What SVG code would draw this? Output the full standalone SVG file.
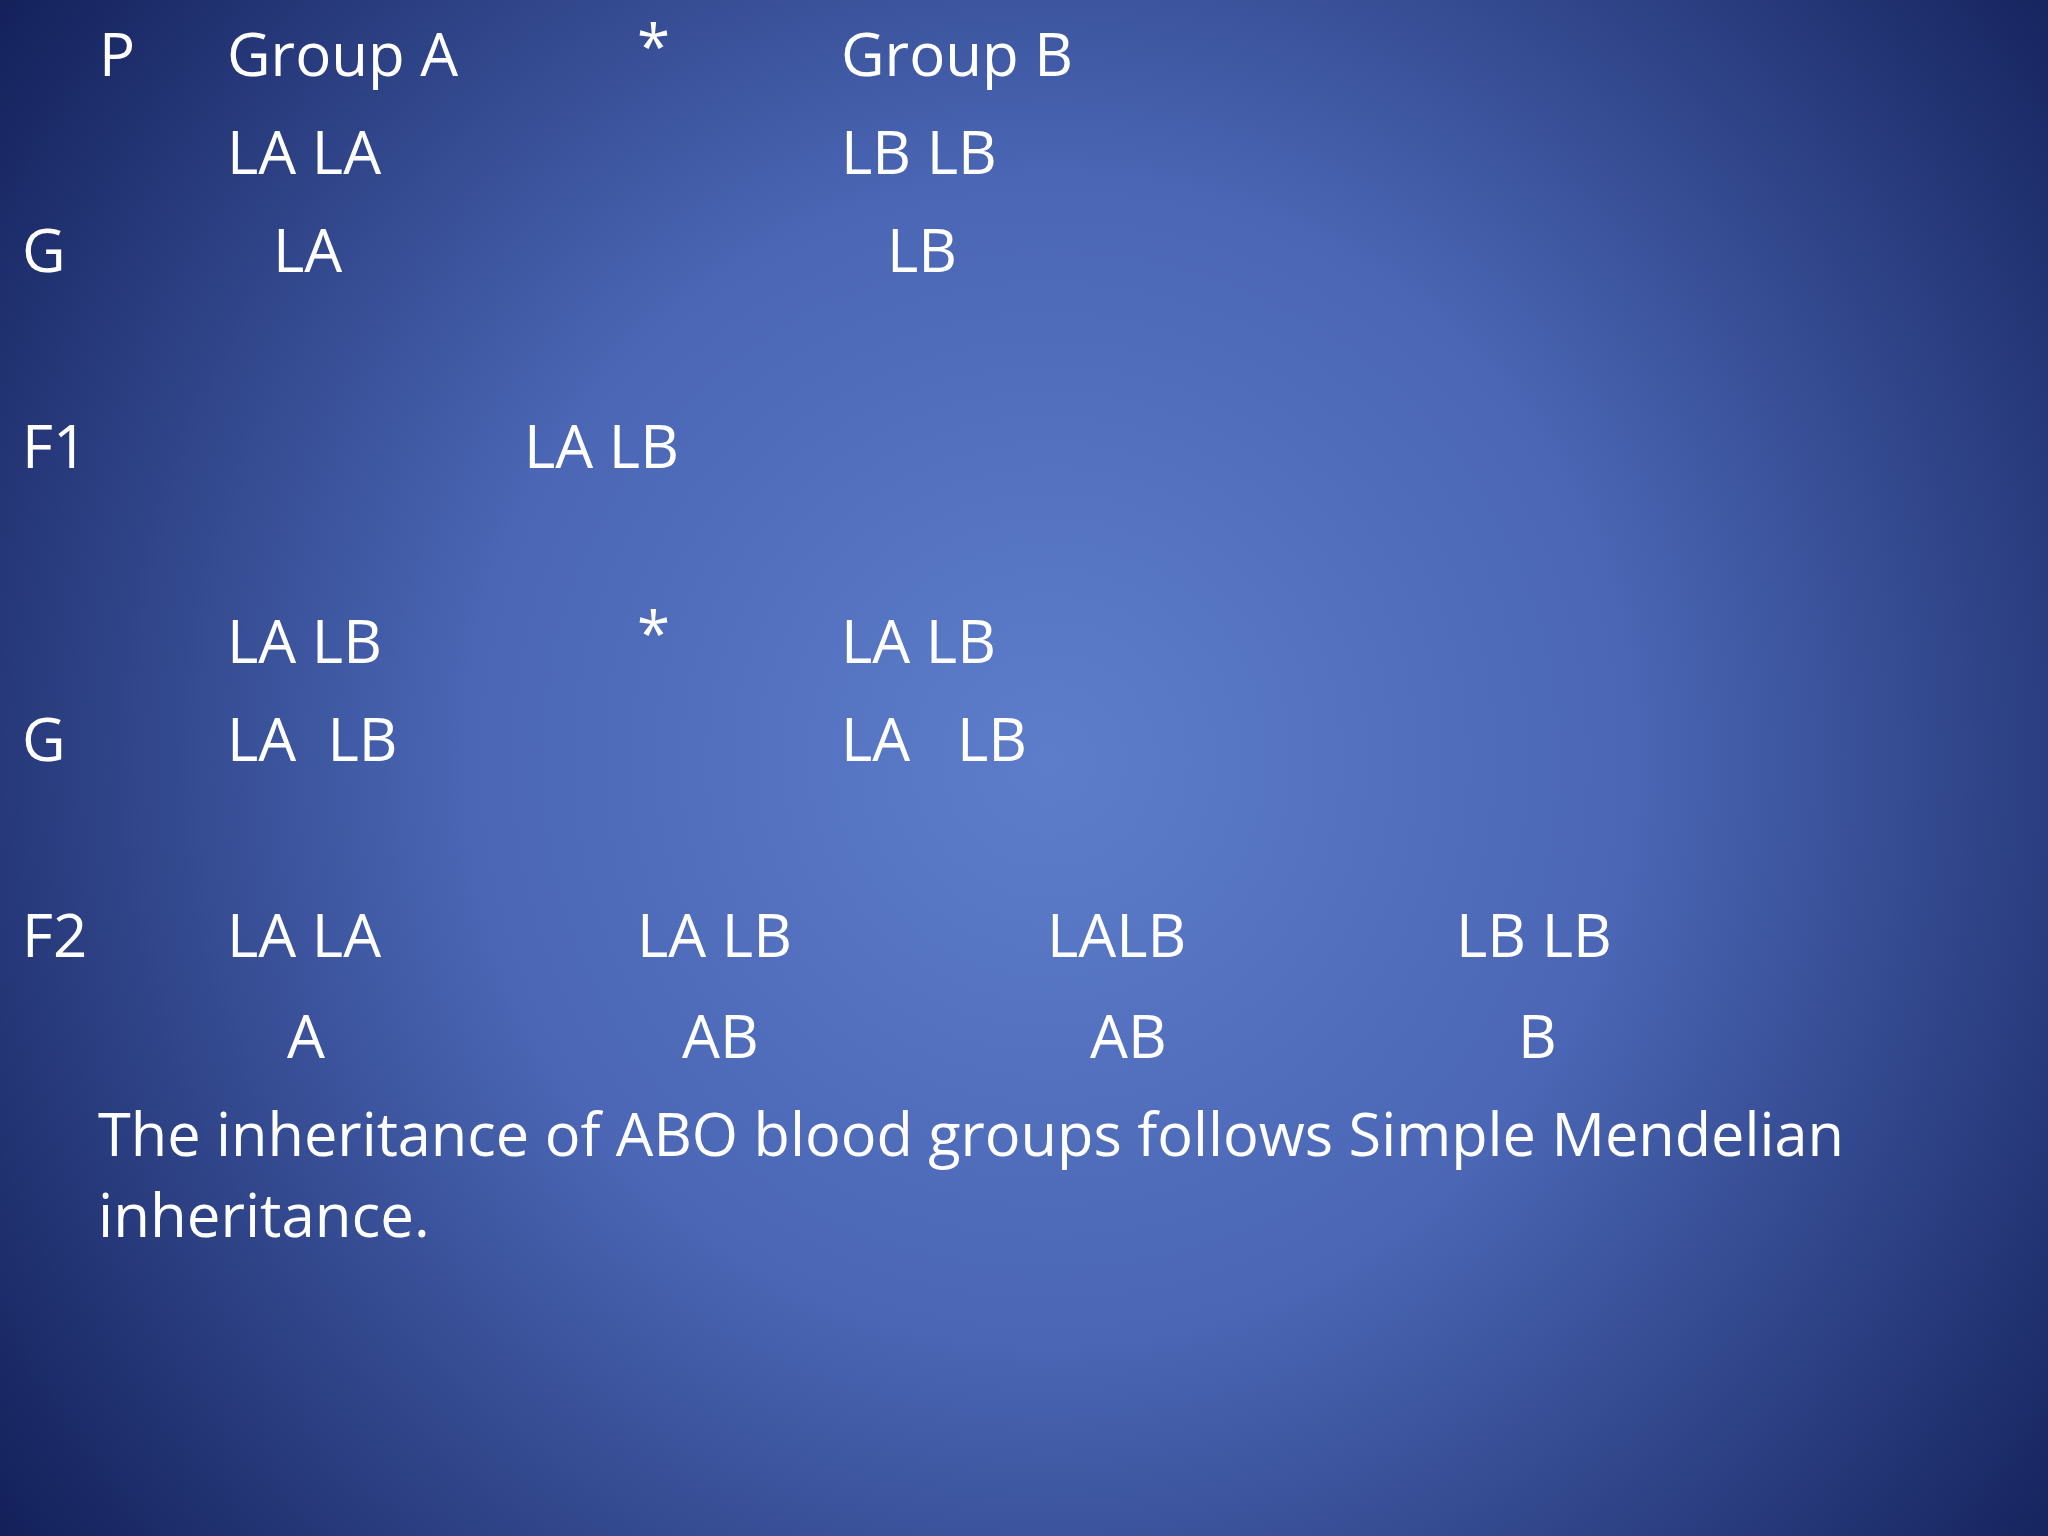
<svg xmlns="http://www.w3.org/2000/svg" width="2048" height="1536" viewBox="0 0 2048 1536">
<defs>
<radialGradient id="bg" cx="1050" cy="760" r="1300" gradientUnits="userSpaceOnUse">
<stop offset="0" stop-color="#5d7dcb"/>
<stop offset="0.45" stop-color="#4a66b4"/>
<stop offset="1" stop-color="#13205a"/>
</radialGradient>
<style>text{fill:#fff;font-family:"Open Sans","Liberation Sans",sans-serif;font-size:60px;white-space:pre}</style>
</defs>
<rect width="2048" height="1536" fill="url(#bg)"/>
<g id="row1"><text x="99" y="76">P</text><text x="227" y="76">Group A</text><text x="637" y="68">*</text><text x="841" y="76">Group B</text></g>
<g id="row2"><text x="227" y="174">LA LA</text><text x="841" y="174">LB LB</text></g>
<g id="row3"><text x="22" y="272">G</text><text x="273" y="272">LA</text><text x="887" y="272">LB</text></g>
<g id="row4"><text x="22" y="468">F1</text><text x="524" y="468">LA LB</text></g>
<g id="row5"><text x="227" y="663">LA LB</text><text x="637" y="655">*</text><text x="841" y="663">LA LB</text></g>
<g id="row6"><text x="22" y="761">G</text><text x="227" y="761" xml:space="preserve">LA  LB</text><text x="841" y="761" xml:space="preserve">LA   LB</text></g>
<g id="row7"><text x="22" y="957">F2</text><text x="227" y="957">LA LA</text><text x="637" y="957">LA LB</text><text x="1047" y="957">LALB</text><text x="1456" y="957">LB LB</text></g>
<g id="row8"><text x="287" y="1058">A</text><text x="682" y="1058">AB</text><text x="1090" y="1058">AB</text><text x="1518" y="1058">B</text></g>
<g id="note"><text x="98" y="1156" textLength="1746" lengthAdjust="spacingAndGlyphs">The inheritance of ABO blood groups follows Simple Mendelian</text><text x="98" y="1237">inheritance.</text></g>
</svg>
